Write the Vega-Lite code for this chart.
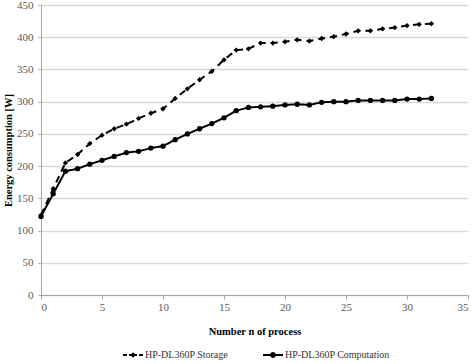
{
  "$schema": "https://vega.github.io/schema/vega-lite/v6.json",
  "width": 427,
  "height": 290,
  "autosize": "none",
  "padding": {"left": 41, "top": 5, "right": 6, "bottom": 69},
  "background": "white",
  "config": {
    "view": {"stroke": null},
    "font": "Liberation Serif",
    "axis": {
      "labelFont": "Liberation Serif",
      "labelFontSize": 11,
      "labelColor": "#595959",
      "titleFont": "Liberation Serif",
      "titleFontSize": 10.5,
      "titleFontWeight": "bold",
      "titleColor": "#000000",
      "gridColor": "#d9d9d9",
      "gridWidth": 1.3,
      "domainColor": "#a6a6a6",
      "tickColor": "#a6a6a6"
    },
    "legend": {
      "labelFont": "Liberation Serif",
      "labelFontSize": 10,
      "labelColor": "#333333"
    }
  },
  "data": {
    "values": [
      {"n": 0, "series": "HP-DL360P Storage", "W": 124},
      {"n": 1, "series": "HP-DL360P Storage", "W": 165},
      {"n": 2, "series": "HP-DL360P Storage", "W": 205},
      {"n": 3, "series": "HP-DL360P Storage", "W": 218},
      {"n": 4, "series": "HP-DL360P Storage", "W": 235},
      {"n": 5, "series": "HP-DL360P Storage", "W": 248},
      {"n": 6, "series": "HP-DL360P Storage", "W": 258},
      {"n": 7, "series": "HP-DL360P Storage", "W": 265},
      {"n": 8, "series": "HP-DL360P Storage", "W": 274},
      {"n": 9, "series": "HP-DL360P Storage", "W": 282},
      {"n": 10, "series": "HP-DL360P Storage", "W": 289},
      {"n": 11, "series": "HP-DL360P Storage", "W": 305},
      {"n": 12, "series": "HP-DL360P Storage", "W": 320},
      {"n": 13, "series": "HP-DL360P Storage", "W": 334},
      {"n": 14, "series": "HP-DL360P Storage", "W": 347},
      {"n": 15, "series": "HP-DL360P Storage", "W": 365},
      {"n": 16, "series": "HP-DL360P Storage", "W": 380},
      {"n": 17, "series": "HP-DL360P Storage", "W": 382},
      {"n": 18, "series": "HP-DL360P Storage", "W": 391},
      {"n": 19, "series": "HP-DL360P Storage", "W": 391},
      {"n": 20, "series": "HP-DL360P Storage", "W": 393},
      {"n": 21, "series": "HP-DL360P Storage", "W": 396},
      {"n": 22, "series": "HP-DL360P Storage", "W": 394},
      {"n": 23, "series": "HP-DL360P Storage", "W": 398},
      {"n": 24, "series": "HP-DL360P Storage", "W": 401},
      {"n": 25, "series": "HP-DL360P Storage", "W": 405},
      {"n": 26, "series": "HP-DL360P Storage", "W": 410},
      {"n": 27, "series": "HP-DL360P Storage", "W": 410},
      {"n": 28, "series": "HP-DL360P Storage", "W": 413},
      {"n": 29, "series": "HP-DL360P Storage", "W": 415},
      {"n": 30, "series": "HP-DL360P Storage", "W": 418},
      {"n": 31, "series": "HP-DL360P Storage", "W": 420},
      {"n": 32, "series": "HP-DL360P Storage", "W": 421},
      {"n": 0, "series": "HP-DL360P Computation", "W": 122},
      {"n": 1, "series": "HP-DL360P Computation", "W": 157},
      {"n": 2, "series": "HP-DL360P Computation", "W": 192},
      {"n": 3, "series": "HP-DL360P Computation", "W": 196},
      {"n": 4, "series": "HP-DL360P Computation", "W": 203},
      {"n": 5, "series": "HP-DL360P Computation", "W": 209},
      {"n": 6, "series": "HP-DL360P Computation", "W": 215},
      {"n": 7, "series": "HP-DL360P Computation", "W": 221},
      {"n": 8, "series": "HP-DL360P Computation", "W": 223},
      {"n": 9, "series": "HP-DL360P Computation", "W": 228},
      {"n": 10, "series": "HP-DL360P Computation", "W": 231},
      {"n": 11, "series": "HP-DL360P Computation", "W": 241},
      {"n": 12, "series": "HP-DL360P Computation", "W": 250},
      {"n": 13, "series": "HP-DL360P Computation", "W": 258},
      {"n": 14, "series": "HP-DL360P Computation", "W": 266},
      {"n": 15, "series": "HP-DL360P Computation", "W": 275},
      {"n": 16, "series": "HP-DL360P Computation", "W": 286},
      {"n": 17, "series": "HP-DL360P Computation", "W": 291},
      {"n": 18, "series": "HP-DL360P Computation", "W": 292},
      {"n": 19, "series": "HP-DL360P Computation", "W": 293},
      {"n": 20, "series": "HP-DL360P Computation", "W": 295},
      {"n": 21, "series": "HP-DL360P Computation", "W": 296},
      {"n": 22, "series": "HP-DL360P Computation", "W": 295},
      {"n": 23, "series": "HP-DL360P Computation", "W": 299},
      {"n": 24, "series": "HP-DL360P Computation", "W": 300},
      {"n": 25, "series": "HP-DL360P Computation", "W": 300},
      {"n": 26, "series": "HP-DL360P Computation", "W": 302},
      {"n": 27, "series": "HP-DL360P Computation", "W": 302},
      {"n": 28, "series": "HP-DL360P Computation", "W": 302},
      {"n": 29, "series": "HP-DL360P Computation", "W": 302},
      {"n": 30, "series": "HP-DL360P Computation", "W": 304},
      {"n": 31, "series": "HP-DL360P Computation", "W": 304},
      {"n": 32, "series": "HP-DL360P Computation", "W": 305}
    ]
  },
  "encoding": {
    "x": {
      "field": "n",
      "type": "quantitative",
      "scale": {"domain": [0, 35], "nice": false},
      "axis": {
        "values": [0, 5, 10, 15, 20, 25, 30, 35],
        "title": "Number n of process",
        "grid": false,
        "ticks": true,
        "tickSize": 4,
        "labelPadding": 2,
        "titlePadding": 14,
        "labelFont": "Liberation Serif"
      }
    },
    "y": {
      "field": "W",
      "type": "quantitative",
      "scale": {"domain": [0, 450], "nice": false},
      "axis": {
        "values": [0, 50, 100, 150, 200, 250, 300, 350, 400, 450],
        "title": "Energy consumption [W]",
        "ticks": true,
        "tickSize": 3,
        "labelPadding": 5,
        "titlePadding": 3,
        "labelFont": "Liberation Serif"
      }
    }
  },
  "resolve": {
    "scale": {"shape": "independent"},
    "legend": {"shape": "independent"}
  },
  "layer": [
    {
      "mark": {"type": "line", "color": "black", "strokeWidth": 2},
      "encoding": {
        "strokeDash": {
          "field": "series",
          "type": "nominal",
          "scale": {
            "domain": ["HP-DL360P Storage", "HP-DL360P Computation"],
            "range": [[7, 5], [1, 0]]
          },
          "legend": null
        }
      }
    },
    {
      "mark": {"type": "point", "filled": true, "color": "black", "opacity": 1, "size": 28},
      "encoding": {
        "shape": {
          "field": "series",
          "type": "nominal",
          "scale": {
            "domain": ["HP-DL360P Storage", "HP-DL360P Computation"],
            "range": ["diamond", "circle"]
          },
          "legend": null
        }
      }
    },
    {
      "mark": {"type": "point", "filled": true, "color": "black", "opacity": 0, "size": 10},
      "encoding": {
        "shape": {
          "field": "series",
          "type": "nominal",
          "scale": {
            "domain": ["HP-DL360P Storage", "HP-DL360P Computation"],
            "range": [
              "M-1,-0.09H-0.6V0.09H-1ZM-0.4,-0.09H0.4V0.09H-0.4ZM0.6,-0.09H1V0.09H0.6ZM0,-0.28L0.28,0L0,0.28L-0.28,0Z",
              "M-1,-0.09H1V0.09H-1ZM0.29,0A0.29,0.29 0 1,1 -0.29,0A0.29,0.29 0 1,1 0.29,0Z"
            ]
          },
          "legend": {
            "orient": "none",
            "legendX": 82,
            "legendY": 340,
            "direction": "horizontal",
            "title": null,
            "symbolSize": 400,
            "symbolOpacity": 1,
            "symbolFillColor": "black",
            "symbolStrokeWidth": 0,
            "columnPadding": 34,
            "labelOffset": 2,
            "labelFont": "Liberation Serif",
            "labelFontSize": 10
          }
        }
      }
    }
  ]
}
